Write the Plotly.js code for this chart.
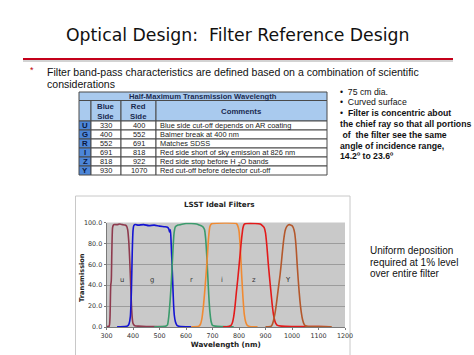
<!DOCTYPE html>
<html><head><meta charset="utf-8">
<script src="https://cdn.plot.ly/plotly-3.0.1.min.js"></script>
<style>html,body{margin:0;padding:0;background:#fff}#c{width:474px;height:355px}</style>
</head><body><div id="c"></div>
<script>
// ---- Data ----
const filterBands = ['U','G','R','I','Z','Y'];
const blueSide = [330, 400, 552, 691, 818, 930];
const redSide = [400, 552, 691, 818, 922, 1070];
const comments = ['Blue side cut-off depends on AR coating','Balmer break at 400 nm','Matches SDSS',
  'Red side short of sky emission at 826 nm','Red side stop before H <sub>2</sub>O bands','Red cut-off before detector cut-off'];
const tableTitle = 'Half-Maximum Transmission Wavelength';
const columnHeaders = ['', 'Blue<br>Side', 'Red<br>Side', 'Comments'];

const uWl = [300,310,313,316,318,320,323,326,330,340,350,360,370,376,380,384,388,391,394,397,400,405,410,420,450,480,520];
const uT  = [0.5,0.8,8,40,44,70,95,97.5,98,98,98.5,98,97.5,96.5,93,82,62,42,22,9,3.5,1.5,1,0.8,0.5,0.5,0.3];
const gWl = [340,370,380,385,390,394,397,400,403,408,420,440,460,480,500,520,530,535,538,541,544,547,550,553,556,560,565,570,580,600,620];
const gT  = [0.3,0.5,1,3,10,35,70,92,97,98,97.5,98,97,97.5,96.5,96,95.5,94,91,93,80,62,42,22,11,5,2,1,0.5,0.3,0.3];
const rWl = [480,510,525,530,535,540,545,550,555,560,570,580,600,620,640,650,660,665,670,674,678,682,686,690,695,700,710,740,780];
const rT  = [0.3,0.5,1,2,10,25,45,70,90,96,97.5,98,99,99,98.5,97.5,96.5,95.5,93,85,70,50,30,15,5,1.5,0.8,0.5,0.3];
const iWl = [620,645,650,655,660,665,670,675,680,685,690,695,700,750,790,795,800,805,810,815,820,825,830,840,870];
const iT  = [0.3,0.5,1,3,8,18,32,48,65,85,96,98.5,99,99.5,99,97,92,75,50,28,12,5,2,0.5,0.3];
const zWl = [740,760,770,775,780,785,790,795,800,805,810,815,820,830,860,880,888,895,900,905,910,915,920,925,930,935,940,945,960,1000,1050,1100,1140];
const zT  = [0.3,0.5,1.5,4,10,20,33,45,58,72,85,95,98.5,99,99,98.5,97,95,90,78,62,48,35,22,12,6,3,1.5,0.8,0.5,0.5,0.4,0.3];
const yWl = [900,920,925,930,935,940,945,950,955,960,965,970,975,980,985,990,995,1000,1005,1010,1015,1020,1025,1030,1035,1040,1045,1050,1060,1100,1150];
const yT  = [0.3,0.5,2,6,12,20,30,40,50,62,75,86,93,96,97.5,98,97.5,97,95,90,78,58,40,25,14,7,3,1.2,0.5,0.4,0.3];

const filterNames = ['u','g','r','i','z','Y'];
const labelWl = [358, 472, 619, 735, 856, 984];
const labelT = [45, 45, 45, 45, 45, 45];
const xTicks = [300,400,500,600,700,800,900,1000,1100,1200];
const yTicks = [0,20,40,60,80,100];

const titleText = 'Optical Design:  Filter Reference Design';
const bulletLines = ['Filter band-pass characteristics are defined based on a combination of scientific','considerations'];
const sideLines = ['•  75 cm dia.','•  Curved surface','•  <b>Filter is concentric about</b>','<b>the chief ray so that all portions</b>',
  '<b> of  the filter see the same</b>','<b>angle of incidence range,</b>','<b>14.2º to 23.6º</b>'];
const noteLines = ['Uniform deposition','required at 1% level','over entire filter'];

// ---- helpers ----
const W = 474, H = 355;
const fx = x => x / W, fy = y => 1 - y / H;

const colors = ['#8e3a4e','#1414d2','#3b9b6c','#f08a32','#e31a1a','#b4582c'];
const series = [[uWl,uT],[gWl,gT],[rWl,rT],[iWl,iT],[zWl,zT],[yWl,yT]];
const traces = series.map((s,k)=>({type:'scatter',mode:'lines',x:s[0],y:s[1],
  line:{color:colors[k],width:1.6,shape:'spline',smoothing:0.6},hoverinfo:'skip',showlegend:false,xaxis:'x',yaxis:'y'}));

const tf = 'Liberation Sans, Arial, sans-serif';
const ann = [];
const shapes = [
  {type:'line',xref:'paper',yref:'paper',x0:fx(23),x1:fx(453),y0:fy(61),y1:fy(61),line:{color:'#c4c4c4',width:1.5}},
  {type:'line',xref:'paper',yref:'paper',x0:fx(23),x1:fx(453),y0:fy(59),y1:fy(59),line:{color:'#c4001a',width:2.2}},
  {type:'rect',xref:'paper',yref:'paper',x0:fx(75.5),x1:fx(350),y0:fy(196),y1:fy(360),line:{color:'#c8c8c8',width:1},fillcolor:'rgba(0,0,0,0)',layer:'below'}
];
function P(t,x,y,opt){ann.push(Object.assign({text:t,x:fx(x),y:fy(y),xref:'paper',yref:'paper',showarrow:false,xanchor:'left',yanchor:'middle'},opt));}
function R(x0,y0,x1,y1,fill){shapes.push({type:'rect',xref:'paper',yref:'paper',x0:fx(x0),x1:fx(x1),y0:fy(y1),y1:fy(y0),line:{color:'#4a4a4a',width:1},fillcolor:fill});}

// ---- table (layout geometry) ----
const colX = [79, 91, 121, 156, 327];
const tTop = 92, hTop = 100.5, rTop = 121, rowH = 9;
const hdrFill = '#a9caee', letterFill = '#4d86d8';
const tblFont = {family:tf,size:7.6,color:'#1a2a50'};
R(colX[0],tTop,colX[4],hTop,hdrFill);
P('<b>'+tableTitle+'</b>',(colX[0]+colX[4])/2,(tTop+hTop)/2+0.3,{xanchor:'center',font:tblFont});
columnHeaders.forEach((h,c)=>{
  R(colX[c],hTop,colX[c+1],rTop,hdrFill);
  if(h) P('<b>'+h+'</b>',(colX[c]+colX[c+1])/2,(hTop+rTop)/2+0.5,{xanchor:'center',font:{family:tf,size:7.8,color:'#1a2a50'}});
});
filterBands.forEach((b,r)=>{
  const y0 = rTop + r*rowH, y1 = y0 + rowH, ym = (y0+y1)/2 + 0.3;
  R(colX[0],y0,colX[1],y1,letterFill);
  R(colX[1],y0,colX[2],y1,'#fff');
  R(colX[2],y0,colX[3],y1,'#fff');
  R(colX[3],y0,colX[4],y1,'#fff');
  P('<b>'+b+'</b>',(colX[0]+colX[1])/2,ym,{xanchor:'center',font:{family:tf,size:7.8,color:'#0b1840'}});
  P(String(blueSide[r]),(colX[1]+colX[2])/2,ym,{xanchor:'center',font:{family:tf,size:7.4,color:'#222'}});
  P(String(redSide[r]),(colX[2]+colX[3])/2,ym,{xanchor:'center',font:{family:tf,size:7.4,color:'#222'}});
  P(comments[r],colX[3]+2,ym,{font:{family:tf,size:7.4,color:'#222'}});
});

// ---- slide texts ----
P(titleText,237,35,{xanchor:'center',font:{family:'DejaVu Sans, sans-serif',size:17.3,color:'#111'}});
P('*',28,70,{font:{family:tf,size:9,color:'#c00000'}});
bulletLines.forEach((t,i)=>P(t,45,72+i*11.5,{font:{family:tf,size:10.55,color:'#111'}}));
sideLines.forEach((t,i)=>P(t,338,91.5+i*10.8,{font:{family:tf,size:8.7,color:'#111'}}));
noteLines.forEach((t,i)=>P(t,368,251+i*11,{font:{family:tf,size:10,color:'#111'}}));

// ---- chart texts ----
const cf = 'DejaVu Sans, Verdana, sans-serif';
P('<b>LSST Ideal Filters</b>',219,204.5,{xanchor:'center',font:{family:cf,size:7.2,color:'#222'}});
P('<b>Transmission</b>',82,278,{xanchor:'center',textangle:-90,font:{family:cf,size:6.6,color:'#222'}});
filterNames.forEach((t,i)=>ann.push({text:t,x:labelWl[i],y:labelT[i],xref:'x',yref:'y',showarrow:false,
  font:{family:cf,size:6.8,color:'#333'}}));

const layout = {
  width:W,height:H,margin:{l:0,r:0,t:0,b:0},paper_bgcolor:'#fff',plot_bgcolor:'#c9c9c9',
  showlegend:false,annotations:ann,shapes:shapes,
  xaxis:{domain:[fx(106.5),fx(345)],range:[300,1200],tickvals:xTicks,ticktext:xTicks.map(String),
    showgrid:false,zeroline:false,showline:true,linecolor:'#7a7a7a',linewidth:1,ticks:'outside',ticklen:2,tickcolor:'#7a7a7a',
    tickfont:{family:cf,size:6.4,color:'#333'},
    title:{text:'<b>Wavelength (nm)</b>',font:{family:cf,size:7.2,color:'#222'},standoff:3}},
  yaxis:{domain:[fy(327),fy(222.5)],range:[0,100],tickvals:yTicks,ticktext:yTicks.map(v=>v.toFixed(1)),
    showgrid:true,gridcolor:'#9c9c9c',gridwidth:1,zeroline:false,showline:true,linecolor:'#7a7a7a',linewidth:1,
    ticks:'outside',ticklen:2,tickcolor:'#7a7a7a',
    tickfont:{family:cf,size:6.4,color:'#333'}}
};
Plotly.newPlot('c',traces,layout,{staticPlot:true,displayModeBar:false});
</script></body></html>
